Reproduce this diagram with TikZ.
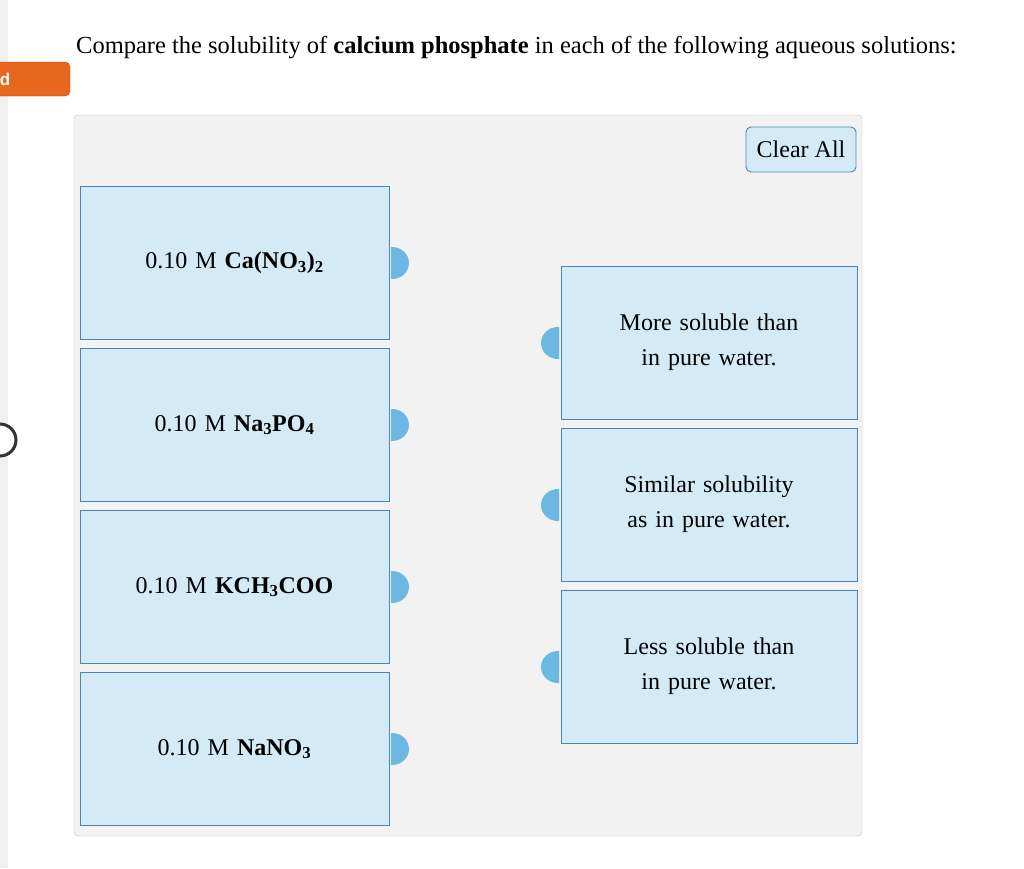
\documentclass[tikz,border=0pt]{standalone}
\usepackage{fontspec}
\setmainfont{Liberation Serif}
\newfontfamily\sansf{Liberation Sans}
\begin{document}
\begin{tikzpicture}[x=1pt,y=-1pt,
  box/.style={draw=boxline,fill=boxfill,line width=0.9pt},
  lbl/.style={font=\fontsize{24}{35}\selectfont,align=center,text width=240pt}]
\definecolor{boxfill}{HTML}{D4EBF7}
\definecolor{boxline}{HTML}{4A86B0}
\definecolor{tabblue}{HTML}{6DB8E2}
\definecolor{panel}{HTML}{F2F2F2}
\definecolor{orangeb}{HTML}{E8671E}
\useasboundingbox (0,0) rectangle (1024,868);
\fill[white] (0,0) rectangle (1024,868);
\fill[black!6] (0,0) rectangle (8,868);
\node[anchor=west,inner sep=0pt,font=\fontsize{24.5}{28}\selectfont] (title) at (76,48) {Compare the solubility of \textbf{calcium phosphate} in each of the following aqueous solutions:};
\path[fill=orangeb,draw=orangeb!70!black,rounded corners=5pt] (-10,62) rectangle (70,96);
\node[text=white,font=\sansf\bfseries\fontsize{17}{20}\selectfont] (ob) at (5,79) {d};
\draw[line width=3pt,black!80,fill=white] (0,440) circle (16);
\path[fill=panel,draw=black!25,rounded corners=4pt] (74,115) rectangle (862,836);
\path[fill=boxfill,draw=boxline,line width=0.9pt,rounded corners=5pt] (746,127) rectangle (856,172);
\node[font=\fontsize{24}{28}\selectfont] (clear) at (801,149.5) {Clear All};
% left boxes
\foreach \n/\yt/\t in {a/186/{0.10 M \textbf{Ca(NO\textsubscript{3})\textsubscript{2}}},
  b/348/{0.10 M \textbf{Na\textsubscript{3}PO\textsubscript{4}}},
  c/510/{0.10 M \textbf{KCH\textsubscript{3}COO}},
  d/672/{0.10 M \textbf{NaNO\textsubscript{3}}}}{
  \path[box] (80,\yt) rectangle (389,\yt+153);
  \node[lbl] (\n) at (234.5,\yt+77) {\t};
  \begin{scope}
    \clip (391,\yt+50) rectangle (430,\yt+110);
    \fill[tabblue] (392,\yt+77) ellipse (17 and 16);
  \end{scope}
}
% right boxes
\foreach \n/\yt/\t in {p/266/{More soluble than in pure water.},
  q/428/{Similar solubility as in pure water.},
  r/590/{Less soluble than in pure water.}}{
  \path[box] (561,\yt) rectangle (857,\yt+153);
  \node[lbl] (\n) at (709,\yt+76) {\t};
  \begin{scope}
    \clip (520,\yt+50) rectangle (559,\yt+110);
    \fill[tabblue] (558,\yt+77) ellipse (17 and 16);
  \end{scope}
}
\end{tikzpicture}
\end{document}
